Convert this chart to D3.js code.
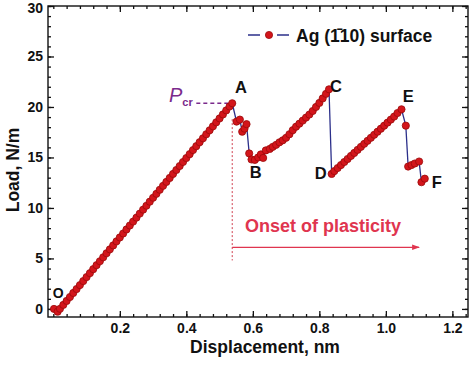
<!DOCTYPE html>
<html><head><meta charset="utf-8">
<script src="https://cdn.jsdelivr.net/npm/d3@7"></script>
<style>body{margin:0;background:#fff}svg{display:block}text{font-family:"Liberation Sans",Arial,sans-serif}</style>
</head><body><svg id="c" width="474" height="369"></svg>
<script>
const dispX = [0.002,0.013,0.02,0.03,0.04,0.05,0.06,0.07,0.08,0.09,0.10,0.11,0.12,0.13,0.14,0.15,0.16,0.17,0.18,0.19,0.20,0.21,0.22,0.23,0.24,0.25,0.26,0.27,0.28,0.29,0.30,0.31,0.32,0.33,0.34,0.35,0.36,0.37,0.38,0.39,0.40,0.41,0.42,0.43,0.44,0.45,0.46,0.47,0.48,0.49,0.50,0.51,0.52,0.53,0.538,
 0.551,0.561,0.568,0.575,0.581,0.589,0.596,0.606,0.616,0.624,0.631,0.639,0.651,0.660,0.670,0.680,0.690,0.700,0.710,0.720,0.730,0.740,0.750,0.760,0.770,0.780,0.790,0.800,0.810,0.820,0.829,
 0.837,0.845,0.855,0.865,0.875,0.885,0.895,0.905,0.915,0.925,0.935,0.945,0.955,0.965,0.975,0.985,0.995,1.005,1.015,1.025,1.035,1.047,
 1.060,1.067,1.077,1.087,1.100,1.107,1.117];
const loadY = [0.0,-0.27,0.01,0.40,0.79,1.18,1.58,1.97,2.36,2.76,3.15,3.54,3.94,4.33,4.72,5.11,5.51,5.90,6.29,6.69,7.08,7.47,7.87,8.26,8.65,9.04,9.44,9.83,10.22,10.62,11.01,11.40,11.80,12.19,12.58,12.97,13.37,13.76,14.15,14.55,14.94,15.33,15.73,16.12,16.51,16.90,17.30,17.69,18.08,18.48,18.87,19.26,19.66,20.05,20.37,
 18.55,18.75,17.55,17.85,18.3,15.4,14.8,14.75,15.0,15.3,14.95,15.7,15.85,16.05,16.25,16.5,16.7,16.95,17.3,17.7,18.05,18.35,18.65,18.95,19.25,19.6,20.0,20.4,20.85,21.3,21.75,
 13.37,13.65,13.95,14.25,14.55,14.85,15.15,15.45,15.75,16.05,16.35,16.65,16.95,17.25,17.55,17.85,18.15,18.45,18.75,19.05,19.4,19.77,
 18.15,14.1,14.25,14.4,14.6,12.55,12.9];
const xTicks = [0.2,0.4,0.6,0.8,1.0,1.2];
const yTicks = [0,5,10,15,20,25,30];
const pointLabels = ["O","A","B","C","D","E","F"];
const labelAt = [[-0.002,1.1],[0.546,21.4],[0.591,13.0],[0.832,21.5],[0.786,12.9],[1.051,20.5],[1.138,12.0]];
const seriesName = "Ag (1\u030410) surface";

const svg = d3.select("#c");
const x = d3.scaleLinear().domain([-0.016,1.247]).range([48,468]);
const y = d3.scaleLinear().domain([-0.8,30]).range([317,6]);
const data = dispX.map((d,i)=>[d,loadY[i]]);

// axes (ticks inward)
const minorX = d3.range(0,1.25,0.04).map(v=>+v.toFixed(2));
const minorY = d3.range(0,31,1);
function tickG(axis, tr){ return svg.append("g").attr("transform",tr).call(axis); }
tickG(d3.axisTop(x).tickValues(minorX).tickSize(3).tickFormat(""),"translate(0,317)");
tickG(d3.axisTop(x).tickValues(xTicks).tickSize(6).tickFormat(""),"translate(0,317)");
tickG(d3.axisBottom(x).tickValues(minorX).tickSize(3).tickFormat(""),"translate(0,6)");
tickG(d3.axisBottom(x).tickValues(xTicks).tickSize(6).tickFormat(""),"translate(0,6)");
tickG(d3.axisRight(y).tickValues(minorY).tickSize(3).tickFormat(""),"translate(48,0)");
tickG(d3.axisRight(y).tickValues(yTicks).tickSize(6).tickFormat(""),"translate(48,0)");
tickG(d3.axisLeft(y).tickValues(minorY).tickSize(3).tickFormat(""),"translate(468,0)");
tickG(d3.axisLeft(y).tickValues(yTicks).tickSize(6).tickFormat(""),"translate(468,0)");
svg.selectAll(".domain").remove();
svg.selectAll(".tick line").attr("stroke","#111").attr("stroke-width",1.3);
svg.append("rect").attr("x",48).attr("y",6).attr("width",420).attr("height",311).attr("fill","none").attr("stroke","#111").attr("stroke-width",1.4);

// tick labels
const xl = tickG(d3.axisBottom(x).tickValues(xTicks).tickSize(0).tickPadding(6).tickFormat(d3.format(".1f")),"translate(0,317)");
const yl = tickG(d3.axisLeft(y).tickValues(yTicks).tickSize(0).tickPadding(5).tickFormat(d3.format("d")),"translate(48,0)");
xl.select(".domain").remove(); yl.select(".domain").remove();
svg.selectAll(".tick text").attr("font-family","Liberation Sans, Arial, sans-serif").attr("font-weight","bold").attr("font-size",14).attr("fill","#111");
yl.selectAll(".tick text").filter(d=>d===30).attr("dy","0.45em");

// axis titles
svg.append("text").attr("x",265).attr("y",353).attr("text-anchor","middle").attr("font-weight","bold").attr("font-size",17.5).attr("fill","#111").text("Displacement, nm");
svg.append("text").attr("transform","translate(19,170) rotate(-90)").attr("text-anchor","middle").attr("font-weight","bold").attr("font-size",17.5).attr("fill","#111").text("Load, N/m");

// annotations
const purple = "#7b2a8c", red = "#e0354f";
svg.append("line").attr("x1",x(0.538)).attr("x2",x(0.538)).attr("y1",y(18.8)).attr("y2",y(4.8)).attr("stroke","#d04050").attr("stroke-width",1).attr("stroke-dasharray","2,2");
svg.append("defs").append("marker").attr("id","ah").attr("viewBox","0 0 10 10").attr("refX",9).attr("refY",5).attr("markerWidth",6).attr("markerHeight",6).attr("orient","auto")
  .append("path").attr("d","M0,1.5L10,5L0,8.5Z").attr("fill",red);
svg.append("line").attr("x1",x(0.538)).attr("x2",x(1.1)).attr("y1",y(6.1)).attr("y2",y(6.1)).attr("stroke",red).attr("stroke-width",1.3).attr("marker-end","url(#ah)");
svg.append("text").attr("x",245).attr("y",232).attr("font-weight","bold").attr("font-size",18).attr("fill",red).text("Onset of plasticity");
svg.append("line").attr("x1",x(0.43)).attr("x2",x(0.53)).attr("y1",y(20.37)).attr("y2",y(20.37)).attr("stroke",purple).attr("stroke-width",1.3).attr("stroke-dasharray","4,3");
const pt = svg.append("text").attr("x",169).attr("y",102).attr("fill",purple);
pt.append("tspan").attr("font-style","italic").attr("font-size",20).text("P");
pt.append("tspan").attr("font-weight","bold").attr("font-size",11).attr("dy",4).text("cr");

// series line + markers
svg.append("path").datum(data).attr("fill","none").attr("stroke","#2b2f8a").attr("stroke-width",1.3)
  .attr("d",d3.line().x(d=>x(d[0])).y(d=>y(d[1])));
svg.append("g").selectAll("circle").data(data).join("circle")
  .attr("cx",d=>x(d[0])).attr("cy",d=>y(d[1])).attr("r",3.6)
  .attr("fill","#d3151b").attr("stroke","#9a0a0a").attr("stroke-width",0.8);

// point labels
svg.append("g").selectAll("text").data(pointLabels).join("text")
  .attr("x",(d,i)=>x(labelAt[i][0])).attr("y",(d,i)=>y(labelAt[i][1]))
  .attr("font-weight","bold").attr("font-size",(d,i)=>i===0?14:16.5).attr("fill","#111").text(d=>d);

// legend
svg.append("line").attr("x1",248).attr("x2",260).attr("y1",35).attr("y2",35).attr("stroke","#2b2f8a").attr("stroke-width",1.5);
svg.append("line").attr("x1",277).attr("x2",289).attr("y1",35).attr("y2",35).attr("stroke","#2b2f8a").attr("stroke-width",1.5);
svg.append("circle").attr("cx",269).attr("cy",35).attr("r",3.6).attr("fill","#d3151b").attr("stroke","#9a0a0a").attr("stroke-width",0.8);
svg.append("text").attr("x",296).attr("y",42).attr("font-weight","bold").attr("font-size",17.5).attr("fill","#111").text(seriesName);
</script></body></html>
